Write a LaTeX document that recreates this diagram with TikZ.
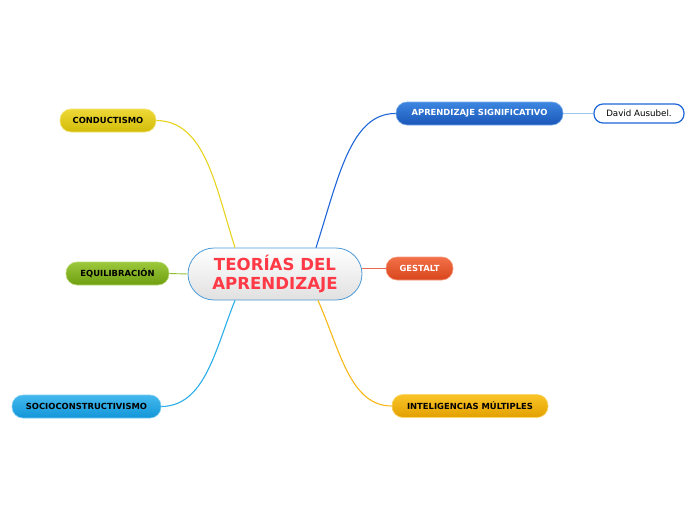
\documentclass[tikz,border=0pt]{standalone}
\usepackage{fontspec}
\setmainfont{DejaVu Sans}
\usetikzlibrary{calc}
\definecolor{cred}{HTML}{FF3A46}
\definecolor{cborder}{HTML}{4A9AD8}
\definecolor{blueT}{HTML}{3C86E0}
\definecolor{blueB}{HTML}{1A56B8}
\definecolor{orT}{HTML}{F27048}
\definecolor{orB}{HTML}{D9461C}
\definecolor{amT}{HTML}{FAC428}
\definecolor{amB}{HTML}{E2A000}
\definecolor{yeT}{HTML}{EED838}
\definecolor{yeB}{HTML}{D2BC08}
\definecolor{grT}{HTML}{9CC83C}
\definecolor{grB}{HTML}{6E9E10}
\definecolor{cyT}{HTML}{44B8EE}
\definecolor{cyB}{HTML}{1296D8}
\definecolor{lyel}{HTML}{E8D420}
\definecolor{lblue}{HTML}{1E66D8}
\definecolor{lor}{HTML}{F7B818}
\definecolor{lcy}{HTML}{2AAEE8}
\definecolor{lgr}{HTML}{8CC030}
\definecolor{lred}{HTML}{E86A50}
\definecolor{lsky}{HTML}{9CC4EC}
\tikzset{
  topic/.style={rounded corners=11pt, minimum height=23pt, inner xsep=6pt, inner ysep=0pt,
    font=\fontsize{8.4}{9}\selectfont\bfseries, line width=0.6pt},
  conn/.style={line width=1.1pt},
}
\begin{document}
\begin{tikzpicture}[x=1pt,y=-1pt]
\useasboundingbox (0,0) rectangle (696,520);
% central
\node[rounded corners=26pt, minimum width=174pt, minimum height=52pt, draw=cborder, line width=0.8pt,
  top color=white, bottom color=black!12, align=center, text=cred,
  font=\fontsize{16.6}{19}\selectfont\bfseries] (c) at (275,274) {TEORÍAS DEL\\APRENDIZAJE};
% topics
\node[topic, minimum width=167pt, top color=blueT, bottom color=blueB, draw=blueT!70!white, text=white] (as) at (479.5,113.5) {APRENDIZAJE SIGNIFICATIVO};
\node[rounded corners=9pt, minimum width=90pt, minimum height=19pt, draw=lblue, line width=1.2pt, fill=white,
  font=\fontsize{8.7}{10}\selectfont] (da) at (639,113.5) {David Ausubel.};
\node[topic, minimum width=67pt, top color=orT, bottom color=orB, draw=orT!70!white, text=white] (ge) at (419.5,268.5) {GESTALT};
\node[topic, minimum width=156pt, top color=amT, bottom color=amB, draw=amT!70!white, text=black] (im) at (470,406) {INTELIGENCIAS MÚLTIPLES};
\node[topic, minimum width=96pt, top color=yeT, bottom color=yeB, draw=yeT!70!white, text=black] (co) at (108,120.5) {CONDUCTISMO};
\node[topic, minimum width=103pt, top color=grT, bottom color=grB, draw=grT!70!white, text=black] (eq) at (117.5,273.5) {EQUILIBRACIÓN};
\node[topic, minimum width=149pt, top color=cyT, bottom color=cyB, draw=cyT!70!white, text=black] (so) at (86.5,406.5) {SOCIOCONSTRUCTIVISMO};
% anchor points on central node
\coordinate (ctl) at ($(c.north)+(-40,0)$);
\coordinate (ctr) at ($(c.north)+(41,0)$);
\coordinate (cbl) at ($(c.south)+(-40,0)$);
\coordinate (cbr) at ($(c.south)+(43,0)$);
% connectors
\draw[conn, lyel] (ctl) .. controls (215,185) and (205,121) .. (co.east);
\draw[conn, lblue] (ctr) .. controls (338,180) and (350,113) .. (as.west);
\draw[conn, lor] (cbr) .. controls (340,350) and (350,406) .. (im.west);
\draw[conn, lcy] (cbl) .. controls (215,350) and (205,406) .. (so.east);
\draw[line width=0.9pt, lgr] (c.west) -- (eq.east);
\draw[line width=0.9pt, lred] (c.east|-ge.west) -- (ge.west);
\draw[line width=0.9pt, lsky] (as.east) -- (da.west);
\end{tikzpicture}
\end{document}
